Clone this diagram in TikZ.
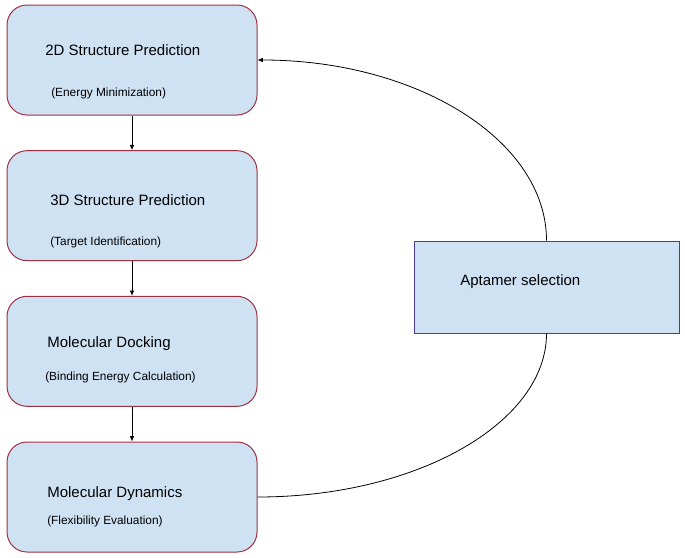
\documentclass[tikz,border=0pt]{standalone}
\usepackage{fontspec}
\setmainfont{Liberation Sans}
\usepackage{xcolor}
\usepackage{tikz}
\usetikzlibrary{arrows.meta,positioning,calc}

\definecolor{boxfill}{HTML}{CFE2F3}
\definecolor{boxline}{HTML}{A03040}
\definecolor{selline}{HTML}{4A3AA8}

\begin{document}
\begin{tikzpicture}[
            x=0.75pt, y=-0.75pt,
            node distance=26pt,
            stage/.style={draw=boxline, line width=0.75pt, rounded corners=15pt,
            fill=boxfill, minimum width=187.5pt, minimum height=82.5pt},
            sel/.style={draw=selline, line width=0.75pt, fill=boxfill,
            minimum width=198.75pt, minimum height=69pt},
            ttl/.style={font=\fontsize{11.25}{13}\selectfont, anchor=west, inner sep=0pt},
            sub/.style={font=\fontsize{8.9}{11}\selectfont, anchor=west, inner sep=0pt},
            ar/.style={-{Latex[length=4pt,width=3.5pt]}, line width=0.6pt}
        ]
\useasboundingbox (0,0) rectangle (685,557);
% pipeline, top to bottom
            \node[stage] at (132,60)        (d2)  {};
            \node[stage, below=of d2]       (d3)  {};
            \node[stage, below=of d3]       (dock) {};
            \node[stage, below=of dock]     (md)  {};
% selection box
            \node[sel] at (546.5,287)       (apt) {};
% labels
            \node[ttl] at (45,50)   (d2t)   {2D Structure Prediction};
            \node[sub] at (51,93)   (d2s)   {(Energy Minimization)};
            \node[ttl] at (50,200)  (d3t)   {3D Structure Prediction};
            \node[sub] at (50,242)  (d3s)   {(Target Identification)};
            \node[ttl] at (47,344)  (dockt) {Molecular Docking};
            \node[sub] at (45,377)  (docks) {(Binding Energy Calculation)};
            \node[ttl] at (47,494)  (mdt)   {Molecular Dynamics};
            \node[sub] at (47,521)  (mds)   {(Flexibility Evaluation)};
            \node[ttl] at (460,282) (aptt)  {Aptamer selection};

            \draw[ar] (d2)   -- (d3);
            \draw[ar] (d3)   -- (dock);
            \draw[ar] (dock) -- (md);
% feedback arcs (quarter ellipses)
            \draw[ar] (apt.north) .. controls +(0,-100) and +(160,0) .. (d2.east);
            \draw[line width=0.6pt] (apt.south) .. controls +(0,89) and +(160,0) .. (md.east);
        \end{tikzpicture}
\end{document}
